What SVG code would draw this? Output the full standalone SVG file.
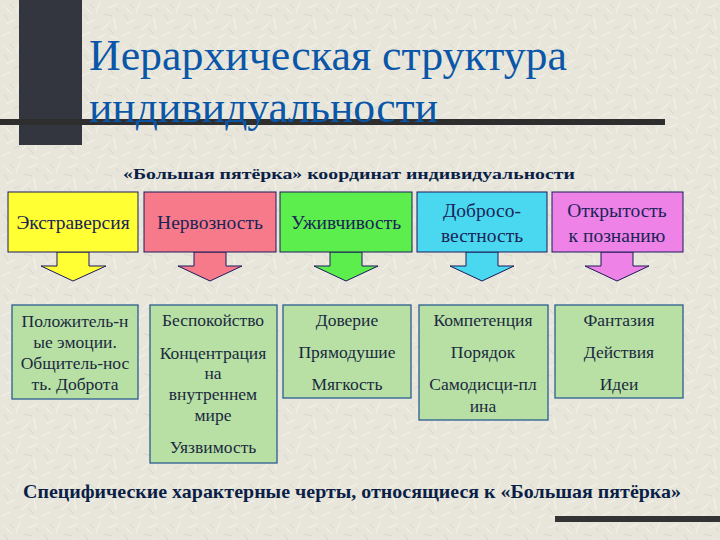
<svg xmlns="http://www.w3.org/2000/svg" width="720" height="540" viewBox="0 0 720 540">
<defs>
<pattern id="tex" width="40" height="40" patternUnits="userSpaceOnUse">
<rect width="40" height="40" fill="#e8e6da"/>
<g stroke="#f4f3ec" stroke-width="1" fill="none">
<path d="M3 5 L12 14 M20 2 L16 13 M28 8 L38 4 M6 24 L15 20 M22 30 L30 22 M34 18 L36 30 M2 36 L10 32 M18 38 L26 34 M30 36 L38 39"/>
</g>
<g stroke="#d9d7cb" stroke-width="1" fill="none">
<path d="M10 4 L14 8 M24 14 L32 16 M4 14 L8 20 M14 28 L20 26 M28 28 L34 34 M36 8 L39 12"/>
</g>
</pattern>
<style>
text{font-family:"Liberation Serif","Times New Roman","DejaVu Serif",serif}
.top{stroke:#1a1a5a;stroke-width:1}
.tt{font-size:19.5px;fill:#1a2458;text-anchor:middle}
.bot{fill:#b8e0a4;stroke:#2a5f8f;stroke-width:1.3}
.bt{font-size:17.5px;fill:#1a2a40;text-anchor:middle}
</style>
</defs>
<rect width="720" height="540" fill="url(#tex)"/>
<rect x="19" y="0" width="63" height="145" fill="#33353f"/>
<rect x="0" y="119" width="665" height="6" fill="#2e2e2e"/>
<rect x="555" y="516" width="165" height="6" fill="#333333"/>
<g fill="#0a56a8" font-size="45">
<text x="89" y="70" textLength="478" lengthAdjust="spacingAndGlyphs">Иерархическая структура</text>
<text x="89" y="122" textLength="349" lengthAdjust="spacingAndGlyphs">индивидуальности</text>
</g>
<text x="349" y="179" font-weight="bold" font-size="15" fill="#0a1e48" text-anchor="middle" textLength="452" lengthAdjust="spacingAndGlyphs">«Большая пятёрка» координат индивидуальности</text>

<g id="connectors">
<polygon class="top" fill="#ffff33" points="57,252 89,252 89,266 106,266 73,281 41,266 57,266"/>
<polygon class="top" fill="#f77a8a" points="194,252 226,252 226,266 242,266 210,281 178,266 194,266"/>
<polygon class="top" fill="#5cee4c" points="330,252 362,252 362,266 378,266 346,281 314,266 330,266"/>
<polygon class="top" fill="#4ad8f0" points="466,252 498,252 498,266 514,266 482,281 450,266 466,266"/>
<polygon class="top" fill="#ee82e6" points="601,252 633,252 633,266 649,266 617,281 585,266 601,266"/>
</g>

<g id="n-extra"><rect class="top" fill="#ffff33" x="8" y="192" width="130" height="60"/><text class="tt" x="73" y="229">Экстраверсия</text></g>
<g id="n-nerv"><rect class="top" fill="#f77a8a" x="144" y="192" width="132" height="60"/><text class="tt" x="210" y="229">Нервозность</text></g>
<g id="n-uzh"><rect class="top" fill="#5cee4c" x="280" y="192" width="132" height="60"/><text class="tt" x="346" y="229">Уживчивость</text></g>
<g id="n-dobr"><rect class="top" fill="#4ad8f0" x="417" y="192" width="130" height="60"/><text class="tt" x="482" y="217">Добросо-</text><text class="tt" x="482" y="242">вестность</text></g>
<g id="n-otkr"><rect class="top" fill="#ee82e6" x="552" y="192" width="131" height="60"/><text class="tt" x="617" y="217">Открытость</text><text class="tt" x="617" y="242">к познанию</text></g>

<g id="b-extra"><rect class="bot" x="12" y="305" width="126" height="94"/>
<text class="bt" x="75" y="327">Положитель-н</text><text class="bt" x="75" y="348">ые эмоции.</text><text class="bt" x="75" y="369">Общитель-нос</text><text class="bt" x="75" y="390">ть. Доброта</text></g>
<g id="b-nerv"><rect class="bot" x="150" y="305" width="127" height="158"/>
<text class="bt" x="213" y="326" font-size="17">Беспокойство</text><text class="bt" x="213" y="359">Концентрация</text><text class="bt" x="213" y="379">на</text><text class="bt" x="213" y="400">внутреннем</text><text class="bt" x="213" y="421">мире</text><text class="bt" x="213" y="453">Уязвимость</text></g>
<g id="b-uzh"><rect class="bot" x="283" y="305" width="128" height="93"/>
<text class="bt" x="347" y="326">Доверие</text><text class="bt" x="347" y="358">Прямодушие</text><text class="bt" x="347" y="390">Мягкость</text></g>
<g id="b-dobr"><rect class="bot" x="419" y="305" width="129" height="115"/>
<text class="bt" x="483" y="326">Компетенция</text><text class="bt" x="483" y="358">Порядок</text><text class="bt" x="483" y="390">Самодисци-пл</text><text class="bt" x="483" y="412">ина</text></g>
<g id="b-otkr"><rect class="bot" x="555" y="305" width="128" height="93"/>
<text class="bt" x="619" y="326">Фантазия</text><text class="bt" x="619" y="358">Действия</text><text class="bt" x="619" y="390">Идеи</text></g>

<text x="23" y="498" font-weight="bold" font-size="19" fill="#0a1e48" textLength="658" lengthAdjust="spacingAndGlyphs">Специфические характерные черты, относящиеся к «Большая пятёрка»</text>
</svg>
